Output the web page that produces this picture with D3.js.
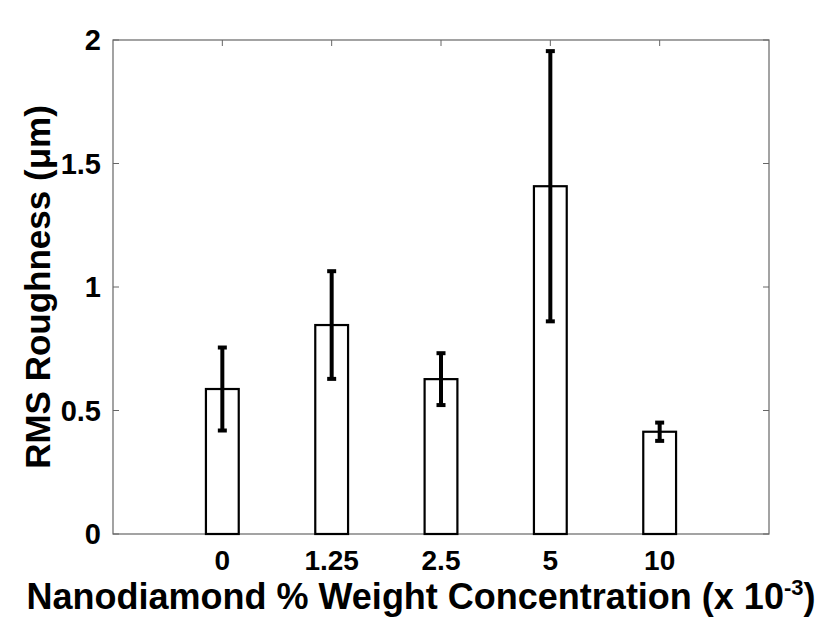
<!DOCTYPE html>
<html>
<head>
<meta charset="utf-8">
<script src="https://cdn.jsdelivr.net/npm/d3@7"></script>
<style>
  body { margin: 0; background: #fff; }
  text { font-family: "Liberation Sans", Arial, Helvetica, sans-serif; font-weight: bold; }
</style>
</head>
<body>
<div id="chart"></div>
<script>
// data
const categories = ["0", "1.25", "2.5", "5", "10"];
const roughness = [0.587, 0.846, 0.627, 1.408, 0.414];
const errors = [0.168, 0.218, 0.105, 0.547, 0.037];
const yTicks = [0, 0.5, 1, 1.5, 2];
const yTickLabels = ["0", "0.5", "1", "1.5", "2"];

const width = 826, height = 629;
const margin = { left: 113, right: 57, top: 40, bottom: 95 };
const innerW = width - margin.left - margin.right;
const innerH = height - margin.top - margin.bottom;

const svg = d3.select("#chart").append("svg")
    .attr("width", width)
    .attr("height", height);

const g = svg.append("g")
    .attr("transform", "translate(" + margin.left + "," + margin.top + ")");

// bar positions 1..n on a 0..n+1 axis, matlab style
const x = d3.scaleLinear().domain([0, categories.length + 1]).range([0, innerW]);
const y = d3.scaleLinear().domain([0, 2]).range([innerH, 0]);
const barW = x(0.3) - x(0);

// axis box
g.append("rect")
    .attr("x", 0).attr("y", 0)
    .attr("width", innerW).attr("height", innerH)
    .attr("fill", "none")
    .attr("stroke", "#666")
    .attr("stroke-width", 1.2);

// ticks on both sides pointing in
const tickLen = 6;
yTicks.forEach(function (t) {
    g.append("line").attr("x1", 0).attr("x2", tickLen)
        .attr("y1", y(t)).attr("y2", y(t)).attr("stroke", "#666");
    g.append("line").attr("x1", innerW).attr("x2", innerW - tickLen)
        .attr("y1", y(t)).attr("y2", y(t)).attr("stroke", "#666");
});
categories.forEach(function (c, i) {
    g.append("line").attr("x1", x(i + 1)).attr("x2", x(i + 1))
        .attr("y1", 0).attr("y2", tickLen).attr("stroke", "#666");
    g.append("line").attr("x1", x(i + 1)).attr("x2", x(i + 1))
        .attr("y1", innerH).attr("y2", innerH - tickLen).attr("stroke", "#666");
});

// tick labels
g.selectAll(".ylab").data(yTicks).enter().append("text")
    .attr("class", "ylab")
    .attr("x", -12)
    .attr("y", d => y(d))
    .attr("dy", "0.36em")
    .attr("text-anchor", "end")
    .attr("font-size", 29)
    .text((d, i) => yTickLabels[i]);

g.selectAll(".xlab").data(categories).enter().append("text")
    .attr("class", "xlab")
    .attr("x", (d, i) => x(i + 1))
    .attr("y", innerH + 36)
    .attr("text-anchor", "middle")
    .attr("font-size", 28)
    .text(d => d);

// bars
g.selectAll(".bar").data(roughness).enter().append("rect")
    .attr("class", "bar")
    .attr("x", (d, i) => x(i + 1) - barW / 2)
    .attr("y", d => y(d))
    .attr("width", barW)
    .attr("height", d => y(0) - y(d))
    .attr("fill", "#fff")
    .attr("stroke", "#000")
    .attr("stroke-width", 2.2);

// error bars
const capW = 9;
roughness.forEach(function (v, i) {
    const cx = x(i + 1);
    const e = errors[i];
    g.append("line").attr("x1", cx).attr("x2", cx)
        .attr("y1", y(v - e)).attr("y2", y(v + e))
        .attr("stroke", "#000").attr("stroke-width", 4);
    [v - e, v + e].forEach(function (yy) {
        g.append("line").attr("x1", cx - capW / 2).attr("x2", cx + capW / 2)
            .attr("y1", y(yy)).attr("y2", y(yy))
            .attr("stroke", "#000").attr("stroke-width", 4);
    });
});

// axis titles
const xt = svg.append("text")
    .attr("x", 421)
    .attr("y", 609)
    .attr("text-anchor", "middle")
    .attr("font-size", 36);
xt.append("tspan").text("Nanodiamond % Weight Concentration (x 10");
xt.append("tspan").attr("dy", -14).attr("font-size", 22).text("-3");
xt.append("tspan").attr("dy", 14).text(")");

svg.append("text")
    .attr("transform", "translate(50," + (margin.top + innerH / 2) + ") rotate(-90)")
    .attr("text-anchor", "middle")
    .attr("font-size", 35)
    .text("RMS Roughness (\u03bcm)");
</script>
</body>
</html>
